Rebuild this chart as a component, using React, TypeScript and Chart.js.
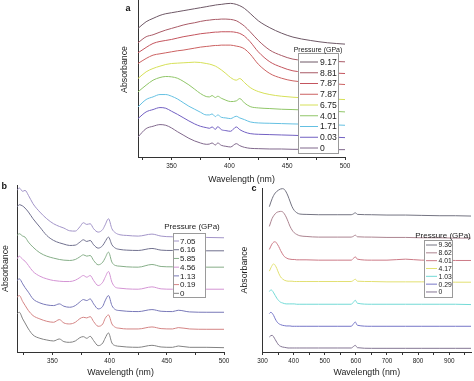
import React, { useEffect, useRef } from 'react';
import { Chart, registerables } from 'chart.js';

Chart.register(...registerables);

const FONT = '"Liberation Sans", Arial, Helvetica, sans-serif';

// ---------------- Panel a data ----------------
const wavelengthA = [321, 328, 334, 340, 345, 350, 355, 360, 365, 370, 375, 380, 383, 385, 388, 390, 393, 397, 401, 406, 409, 413, 418, 425, 435, 445, 455, 470, 485, 500];
const pressuresA = ['9.17', '8.81', '7.87', '7.87', '6.75', '4.01', '1.71', '0.03', '0'];
const absA_917 = [385, 405, 415, 424, 429, 432, 435, 438, 441, 444, 447, 450, 452, 453, 455, 456, 457, 459, 460, 457, 453, 445, 430, 408, 387, 371, 359, 349, 342, 338];
const absA_881 = [342, 360, 366, 374, 380, 385, 390, 395, 399, 402, 406, 409, 410, 411, 412, 412, 413, 413, 412, 408, 402, 392, 375, 349, 320, 304, 293, 289, 287, 285];
const absA_787a = [312, 328, 340, 346, 349, 352, 356, 360, 363, 366, 369, 371, 372, 373, 374, 374, 375, 375, 375, 373, 370, 362, 345, 315, 285, 269, 258, 254, 252, 250];
const absA_787b = [280, 295, 305, 309, 312, 315, 318, 320, 323, 326, 329, 331, 332, 333, 334, 334, 335, 335, 335, 332, 330, 324, 308, 278, 250, 236, 228, 223, 220, 217];
const absA_675 = [235, 255, 265, 272, 277, 280, 281, 282, 283, 284, 283, 280, 278, 276, 272, 268, 261, 250, 238, 230, 235, 223, 208, 196, 187, 182, 179, 176, 174, 172];
const absA_401 = [195, 215, 230, 238, 241, 240, 236, 227, 216, 203, 190, 181, 180, 184, 178, 182, 176, 170, 166, 168, 175, 162, 151, 147, 145, 143, 142, 140, 138, 135];
const absA_171 = [150, 172, 180, 187, 187, 182, 174, 163, 152, 143, 134, 126, 126, 129, 121, 126, 119, 117, 115, 122, 117, 112, 105, 102, 101, 100, 99, 98, 97, 95];
const absA_003 = [115, 135, 142, 148, 146, 137, 128, 118, 108, 99, 92, 88, 86, 90, 83, 91, 82, 79, 77, 90, 82, 75, 70, 68, 67, 66, 65, 63, 60, 58];
const absA_0 = [60, 85, 92, 97, 95, 87, 76, 66, 56, 48, 42, 38, 39, 42, 36, 42, 35, 32, 30, 40, 34, 29, 26, 25, 24, 24, 23, 23, 22, 22];
const ticksA = [325, 350, 375, 400, 425, 450, 475, 500];

// ---------------- Panel b data ----------------
const wavelengthB = [319, 321, 324, 326, 329, 333, 339, 345, 351, 356, 360, 365, 370, 374, 377, 380, 383, 386, 390, 394, 396, 399, 402, 405, 409, 415, 425, 437, 445, 455, 460, 470, 485, 500];
const pressuresB = ['7.05', '6.16', '5.85', '4.56', '1.13', '0.19', '0'];
const absB_705 = [484, 491, 481, 484, 469, 444, 419, 399, 384, 376, 371, 363, 362, 375, 387, 382, 384, 369, 359, 367, 380, 399, 369, 357, 351, 349, 347, 353, 347, 345, 347, 344, 343, 342];
const absB_616 = [434, 441, 437, 431, 419, 399, 374, 349, 334, 327, 323, 319, 320, 329, 336, 331, 334, 321, 311, 319, 330, 344, 321, 311, 307, 305, 304, 310, 305, 304, 305, 304, 303, 303];
const absB_585 = [349, 354, 347, 344, 329, 314, 297, 287, 281, 277, 275, 274, 277, 285, 291, 287, 289, 274, 261, 269, 281, 299, 269, 259, 257, 255, 254, 262, 256, 255, 256, 255, 254, 254];
const absB_456 = [279, 287, 277, 272, 259, 241, 227, 219, 214, 212, 211, 211, 215, 223, 229, 224, 229, 214, 199, 209, 223, 241, 209, 194, 191, 189, 188, 195, 189, 188, 189, 188, 188, 188];
const absB_113 = [214, 219, 204, 193, 179, 159, 147, 141, 139, 144, 137, 134, 139, 150, 157, 154, 159, 144, 129, 137, 153, 169, 139, 127, 124, 122, 121, 127, 122, 121, 125, 120, 119, 119];
const absB_019 = [164, 169, 151, 140, 124, 109, 99, 92, 89, 97, 87, 84, 89, 100, 104, 102, 106, 91, 77, 84, 100, 111, 84, 74, 71, 69, 69, 75, 70, 69, 73, 69, 68, 68];
const absB_0 = [114, 119, 99, 87, 69, 51, 41, 36, 33, 39, 31, 29, 33, 43, 46, 41, 47, 34, 19, 27, 41, 57, 27, 19, 17, 15, 14, 20, 15, 14, 18, 14, 14, 13];
const ticksB = [325, 350, 375, 400, 425, 450, 475, 500];

// ---------------- Panel c data ----------------
const wavelengthC = [322, 327, 331, 336, 341, 346, 352, 358, 364, 370, 376, 382, 388, 395, 402, 410, 420, 440, 480, 540, 585, 593, 598, 605, 650, 700, 760, 810, 870, 920, 970];
const pressuresC = ['9.36', '8.62', '4.01', '4.17', '1.03', '0.29', '0'];
const absC_936 = [435, 449, 459, 469, 476, 481, 485, 488, 489, 487, 479, 467, 452, 435, 424, 417, 413, 412, 411, 411, 411, 414, 417, 412, 411, 410, 410, 409, 408, 408, 407];
const absC_862 = [376, 390, 400, 408, 414, 418, 420, 421, 420, 414, 404, 391, 377, 365, 357, 352, 348, 346, 344, 344, 344, 347, 350, 345, 344, 343, 343, 342, 342, 341, 341];
const absC_401 = [307, 317, 324, 329, 330, 325, 316, 304, 294, 286, 282, 279, 278, 277, 277, 276, 276, 276, 275, 275, 275, 281, 285, 278, 275, 275, 278, 275, 275, 274, 274];
const absC_417 = [242, 252, 259, 264, 259, 250, 236, 225, 219, 215, 213, 212, 212, 212, 211, 211, 211, 211, 211, 211, 211, 215, 218, 212, 211, 210, 210, 210, 210, 209, 209];
const absC_103 = [181, 186, 184, 177, 169, 161, 154, 149, 147, 145, 144, 144, 144, 144, 144, 143, 143, 143, 143, 143, 143, 150, 155, 146, 143, 143, 143, 143, 143, 143, 142];
const absC_029 = [115, 119, 116, 109, 99, 91, 85, 82, 80, 79, 78, 78, 78, 77, 77, 77, 77, 77, 77, 77, 77, 85, 90, 80, 77, 77, 77, 77, 77, 77, 77];
const absC_0 = [45, 49, 50, 45, 37, 29, 21, 17, 15, 14, 13, 12, 12, 12, 12, 12, 12, 12, 12, 12, 12, 17, 20, 13, 11, 11, 11, 11, 11, 11, 11];
const ticksC = [300, 350, 400, 450, 500, 550, 600, 650, 700, 750, 800, 850, 900, 950];

// ---------------- styles ----------------
const colorsA = ['#6e5866', '#a95a66', '#c4555e', '#cc6262', '#d6e058', '#90c668', '#64c0e2', '#7260c2', '#80688c'];
const colorsB = ['#a294c8', '#70708e', '#86ae88', '#d494d4', '#7878b8', '#d48484', '#828282'];
const colorsC = ['#747482', '#ac8490', '#cc7a86', '#e2e072', '#72dad6', '#7676c8', '#847694'];

type LegendCfg = {
  bx: number; by: number; bw: number; bh: number;
  titleX: number; titleY: number; titleSize: number;
  rowY0: number; rowGap: number;
  lineX0: number; lineX1: number; textX: number; textSize: number;
};

type PanelCfg = {
  wavelengths: number[];
  series: number[][];
  labels: string[];
  colors: string[];
  xMin: number; xMax: number; yMax: number;
  ticks: number[]; labelEvery: number;
  left: number; top: number; width: number; height: number;
  padTop: number; padRight: number;
  yWidth: number; xHeight: number; yTitlePad: number;
  legend: LegendCfg;
};

function makeLegendPlugin(cfg: PanelCfg) {
  const o = cfg.legend;
  const ox = cfg.left;
  const oy = cfg.top;
  return {
    id: 'pressureLegend',
    afterDatasetsDraw(chart: any) {
      const ctx = chart.ctx as CanvasRenderingContext2D;
      ctx.save();
      ctx.fillStyle = '#ffffff';
      ctx.fillRect(o.bx - ox, o.by - oy, o.bw, o.bh);
      ctx.strokeStyle = '#9a9a9a';
      ctx.lineWidth = 1;
      ctx.strokeRect(Math.round(o.bx - ox) + 0.5, Math.round(o.by - oy) + 0.5, Math.round(o.bw), Math.round(o.bh));
      ctx.fillStyle = '#222';
      ctx.font = `${o.titleSize}px ${FONT}`;
      ctx.textAlign = 'center';
      ctx.textBaseline = 'middle';
      ctx.fillText('Pressure (GPa)', o.titleX - ox, o.titleY - oy);
      ctx.font = `${o.textSize}px ${FONT}`;
      ctx.textAlign = 'left';
      chart.data.datasets.forEach((ds: any, i: number) => {
        const y = o.rowY0 + i * o.rowGap - oy;
        ctx.strokeStyle = ds.borderColor;
        ctx.lineWidth = 1;
        ctx.beginPath();
        ctx.moveTo(o.lineX0 - ox, y);
        ctx.lineTo(o.lineX1 - ox, y);
        ctx.stroke();
        ctx.fillStyle = '#222';
        ctx.fillText(ds.label, o.textX - ox, y + 0.5);
      });
      ctx.restore();
    },
  };
}

function buildConfig(cfg: PanelCfg): any {
  const datasets = cfg.series.map((s, k) => ({
    label: cfg.labels[k],
    data: cfg.wavelengths.map((x, i) => ({ x, y: s[i] })),
    borderColor: cfg.colors[k],
    borderWidth: 1,
    pointRadius: 0,
    fill: false,
    cubicInterpolationMode: 'monotone',
  }));
  return {
    type: 'line',
    data: { datasets },
    plugins: [makeLegendPlugin(cfg)],
    options: {
      responsive: false,
      maintainAspectRatio: false,
      animation: false,
      devicePixelRatio: 1,
      events: [],
      layout: { padding: { top: cfg.padTop, right: cfg.padRight, left: 0, bottom: 0 } },
      plugins: { legend: { display: false }, tooltip: { enabled: false } },
      scales: {
        x: {
          type: 'linear',
          min: cfg.xMin,
          max: cfg.xMax,
          afterBuildTicks: (scale: any) => {
            scale.ticks = cfg.ticks.map((v) => ({ value: v }));
          },
          afterFit: (scale: any) => {
            scale.height = cfg.xHeight;
          },
          ticks: {
            autoSkip: false,
            maxRotation: 0,
            minRotation: 0,
            padding: 2,
            color: '#222',
            font: { family: FONT, size: 6.4 },
            callback: (v: any) => (Number(v) % cfg.labelEvery === 0 ? String(v) : ''),
          },
          grid: { display: true, drawOnChartArea: false, drawTicks: true, tickLength: 3, color: '#333', lineWidth: 1 },
          border: { display: true, color: '#333', width: 1 },
          title: {
            display: true,
            text: 'Wavelength (nm)',
            color: '#222',
            font: { family: FONT, size: 8.8 },
            padding: { top: 0, bottom: 1.7 },
          },
        },
        y: {
          type: 'linear',
          min: 0,
          max: cfg.yMax,
          afterFit: (scale: any) => {
            scale.width = cfg.yWidth;
          },
          ticks: { display: false },
          grid: { display: false, drawTicks: false },
          border: { display: true, color: '#333', width: 1 },
          title: {
            display: true,
            text: 'Absorbance',
            color: '#222',
            font: { family: FONT, size: 8.8 },
            padding: { top: cfg.yTitlePad, bottom: 0 },
          },
        },
      },
    },
  };
}

const panelA: PanelCfg = {
  wavelengths: wavelengthA,
  series: [absA_917, absA_881, absA_787a, absA_787b, absA_675, absA_401, absA_171, absA_003, absA_0],
  labels: pressuresA,
  colors: colorsA,
  xMin: 321, xMax: 500, yMax: 524,
  ticks: ticksA, labelEvery: 50,
  left: 110, top: -20, width: 250, height: 207,
  padTop: 2, padRight: 15,
  yWidth: 28, xHeight: 30, yTitlePad: 9.7,
  legend: {
    bx: 298, by: 53, bw: 40, bh: 100,
    titleX: 318, titleY: 50, titleSize: 7,
    rowY0: 62, rowGap: 10.75,
    lineX0: 300, lineX1: 318, textX: 320, textSize: 8.6,
  },
};

const panelB: PanelCfg = {
  wavelengths: wavelengthB,
  series: [absB_705, absB_616, absB_585, absB_456, absB_113, absB_019, absB_0],
  labels: pressuresB,
  colors: colorsB,
  xMin: 319, xMax: 500, yMax: 500,
  ticks: ticksB, labelEvery: 50,
  left: 0, top: 175, width: 240, height: 205,
  padTop: 10, padRight: 16,
  yWidth: 17, xHeight: 28, yTitlePad: 0,
  legend: {
    bx: 173, by: 233, bw: 32, bh: 64,
    titleX: 192, titleY: 227, titleSize: 8,
    rowY0: 241, rowGap: 8.72,
    lineX0: 174, lineX1: 179, textX: 180, textSize: 8,
  },
};

const panelC: PanelCfg = {
  wavelengths: wavelengthC,
  series: [absC_936, absC_862, absC_401, absC_417, absC_103, absC_029, absC_0],
  labels: pressuresC,
  colors: colorsC,
  xMin: 300, xMax: 970, yMax: 491,
  ticks: ticksC, labelEvery: 100,
  left: 236, top: 178, width: 238, height: 202,
  padTop: 10, padRight: 3,
  yWidth: 26.5, xHeight: 28, yTitlePad: 3.7,
  legend: {
    bx: 424, by: 240, bw: 28, bh: 57,
    titleX: 443, titleY: 236, titleSize: 8,
    rowY0: 245, rowGap: 7.83,
    lineX0: 426, lineX1: 437, textX: 438.5, textSize: 6.8,
  },
};

function Panel({ cfg }: { cfg: PanelCfg }) {
  const ref = useRef<HTMLCanvasElement>(null);
  useEffect(() => {
    if (!ref.current) return;
    const chart = new Chart(ref.current, buildConfig(cfg));
    return () => chart.destroy();
  }, [cfg]);
  return (
    <canvas
      ref={ref}
      width={cfg.width}
      height={cfg.height}
      style={{ position: 'absolute', left: cfg.left, top: cfg.top, width: cfg.width, height: cfg.height }}
    />
  );
}

const letterStyle: React.CSSProperties = {
  position: 'absolute',
  fontFamily: FONT,
  fontWeight: 'bold',
  fontSize: 9,
  lineHeight: '10px',
  color: '#111',
};

export default function App() {
  return (
    <div
      style={{
        position: 'fixed',
        left: 0,
        top: 0,
        width: 474,
        height: 381,
        background: '#ffffff',
        overflow: 'hidden',
      }}
    >
      <Panel cfg={panelA} />
      <Panel cfg={panelB} />
      <Panel cfg={panelC} />
      <span style={{ ...letterStyle, left: 125.5, top: 3 }}>a</span>
      <span style={{ ...letterStyle, left: 1.5, top: 181 }}>b</span>
      <span style={{ ...letterStyle, left: 251.5, top: 183 }}>c</span>
    </div>
  );
}
